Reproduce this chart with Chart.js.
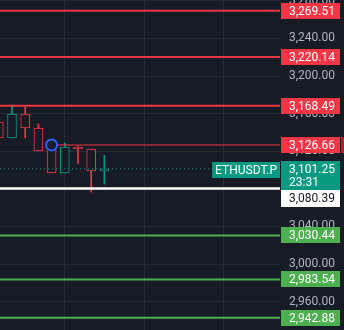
<!DOCTYPE html>
<html>
<head>
<meta charset="utf-8">
<script src="https://cdn.jsdelivr.net/npm/chart.js@4.4.1/dist/chart.umd.min.js"></script>
<style>
  html, body { margin: 0; padding: 0; background: #171b26; }
  canvas { display: block; }
</style>
</head>
<body>
<canvas id="chart" width="344" height="330"></canvas>
<script>
// candles (index, open, high, low, close)
const candleIndex = [0, 1, 2, 3, 4, 5, 6, 7, 8];
const opens  = [3151.1, 3134.1, 3159.6, 3144.7, 3125.0, 3096.8, 3124.5, 3122.4, 3099.0];
const highs  = [3151.1, 3169.2, 3168.1, 3149.0, 3126.0, 3128.8, 3125.6, 3122.4, 3115.5];
const lows   = [3134.1, 3134.1, 3134.1, 3120.3, 3096.8, 3096.8, 3107.0, 3076.6, 3085.1];
const closes = [3134.1, 3159.6, 3144.7, 3120.3, 3096.8, 3124.5, 3122.4, 3099.0, 3101.25];

// horizontal levels
const resistanceLevels = [3269.51, 3220.14, 3168.49];
const alertLevel = 3126.66;
const alertStart = 4;
const pivotLevel = 3080.39;
const supportLevels = [3030.44, 2983.54, 2942.88];

const lastPrice = 3101.25;
const countdown = '23:31';
const symbol = 'ETHUSDT.P';

const priceTicks = [2960, 3000, 3040, 3080, 3120, 3160, 3200, 3240, 3280];
const timeGrid = [5, 11, 17];

const xMin = 1.2 / 13.2, xMax = 281.2 / 13.2;
const yMin = 2929.8, yMax = 3280.9;

const UP = '#089981', DOWN = '#f23645', BG = '#171b26', GRID = '#262a35';
const LEVEL_GREEN = '#4caf50';

const fmt = v => v.toLocaleString('en-US', { minimumFractionDigits: 2, maximumFractionDigits: 2 });
const candleColors = candleIndex.map(i => closes[i] >= opens[i] ? UP : DOWN);

function levelLine(v, color, width, from) {
  return {
    type: 'line',
    data: [{ x: from, y: v }, { x: xMax, y: v }],
    borderColor: color,
    borderWidth: width,
    pointRadius: 0,
    fill: false,
    order: 2
  };
}

const datasets = [
  {
    type: 'bar',
    data: candleIndex.map(i => ({ x: i, y: [lows[i], highs[i]] })),
    backgroundColor: candleColors,
    borderWidth: 0,
    barThickness: 1,
    grouped: false,
    order: 6
  },
  {
    type: 'bar',
    data: candleIndex.map(i => ({ x: i, y: [Math.min(opens[i], closes[i]), Math.max(opens[i], closes[i])] })),
    backgroundColor: BG,
    borderColor: candleColors,
    borderWidth: 1,
    borderSkipped: false,
    barThickness: 9,
    grouped: false,
    order: 5
  },
  {
    type: 'line',
    data: [{ x: xMin, y: lastPrice }, { x: xMax, y: lastPrice }],
    borderColor: UP,
    borderWidth: 1,
    borderDash: [1, 3],
    pointRadius: 0,
    order: 4
  },
  ...resistanceLevels.map(v => levelLine(v, DOWN, 2, xMin)),
  levelLine(alertLevel, DOWN, 1, alertStart),
  levelLine(pivotLevel, '#ffffff', 2.5, xMin),
  ...supportLevels.map(v => levelLine(v, LEVEL_GREEN, 2, xMin)),
  {
    type: 'scatter',
    data: [{ x: alertStart, y: alertLevel }],
    pointRadius: 5.5,
    borderWidth: 2,
    borderColor: '#2962ff',
    backgroundColor: BG,
    order: 1
  }
];

// background fill
const background = {
  id: 'background',
  beforeDraw(chart) {
    const ctx = chart.ctx;
    ctx.save();
    ctx.fillStyle = BG;
    ctx.fillRect(0, 0, chart.width, chart.height);
    ctx.restore();
  }
};

// price tags on the right scale
const priceTags = {
  id: 'priceTags',
  afterDraw(chart) {
    const { ctx, chartArea, scales: { y } } = chart;
    const left = chartArea.right + 1, w = 59, h = 16;
    ctx.save();
    ctx.font = '12px Roboto';
    ctx.textBaseline = 'middle';
    ctx.textAlign = 'left';

    const tag = (top, height, bg, fg, lines) => {
      ctx.fillStyle = bg;
      ctx.fillRect(left, top, w, height);
      ctx.fillStyle = fg;
      lines.forEach((t, k) => ctx.fillText(t, left + 8, top + 8.5 + k * 13));
    };

    resistanceLevels.forEach(v => {
      tag(Math.round(y.getPixelForValue(v) - h / 2), h, DOWN, '#ffffff', [fmt(v)]);
    });

    // alert tag, with the edge of a second tag peeking out behind it
    const alertTop = Math.round(y.getPixelForValue(alertLevel) - h / 2);
    ctx.fillStyle = '#9c2a35';
    ctx.fillRect(left + w + 1, alertTop, 4, h);
    tag(alertTop, h, DOWN, '#ffffff', [fmt(alertLevel)]);

    supportLevels.forEach(v => {
      tag(Math.round(y.getPixelForValue(v) - h / 2), h, LEVEL_GREEN, '#ffffff', [fmt(v)]);
    });

    // last price with countdown
    const py = y.getPixelForValue(lastPrice);
    const priceTop = Math.round(py - 8);
    tag(priceTop, 29, UP, '#ffffff', [fmt(lastPrice), countdown]);

    // pivot tag pushed below the last price tag
    const pivotTop = Math.max(Math.round(y.getPixelForValue(pivotLevel) - h / 2), priceTop + 29);
    tag(pivotTop, h + 1, '#ffffff', '#131722', [fmt(pivotLevel)]);

    // symbol tag
    const tw = ctx.measureText(symbol).width;
    const right = chartArea.right;
    ctx.fillStyle = UP;
    ctx.fillRect(right - tw - 6, priceTop + 1, tw + 6, h);
    ctx.fillStyle = '#ffffff';
    ctx.textAlign = 'right';
    ctx.fillText(symbol, right - 3, priceTop + 9.5);
    ctx.restore();
  }
};

new Chart(document.getElementById('chart'), {
  type: 'bar',
  data: { datasets },
  options: {
    responsive: false,
    animation: false,
    devicePixelRatio: 1,
    layout: { padding: 0, autoPadding: false },
    plugins: { legend: { display: false }, tooltip: { enabled: false } },
    scales: {
      x: {
        type: 'linear',
        offset: false,
        min: xMin,
        max: xMax,
        afterFit: s => { s.height = 0; s.paddingLeft = 0; s.paddingRight = 0; },
        afterBuildTicks: s => { s.ticks = timeGrid.map(v => ({ value: v })); },
        grid: { color: GRID, drawTicks: false, offset: false },
        border: { display: false },
        ticks: { display: false }
      },
      y: {
        type: 'linear',
        position: 'right',
        min: yMin,
        max: yMax,
        afterFit: s => { s.width = 64; s.paddingTop = 0; s.paddingBottom = 0; },
        afterBuildTicks: s => { s.ticks = priceTicks.map(v => ({ value: v })); },
        grid: { color: GRID, drawTicks: false },
        border: { display: false },
        ticks: {
          color: '#b2b5be',
          font: { family: 'Roboto', size: 12 },
          padding: 9,
          autoSkip: false,
          callback: v => fmt(v)
        }
      }
    }
  },
  plugins: [background, priceTags]
});
</script>
</body>
</html>
